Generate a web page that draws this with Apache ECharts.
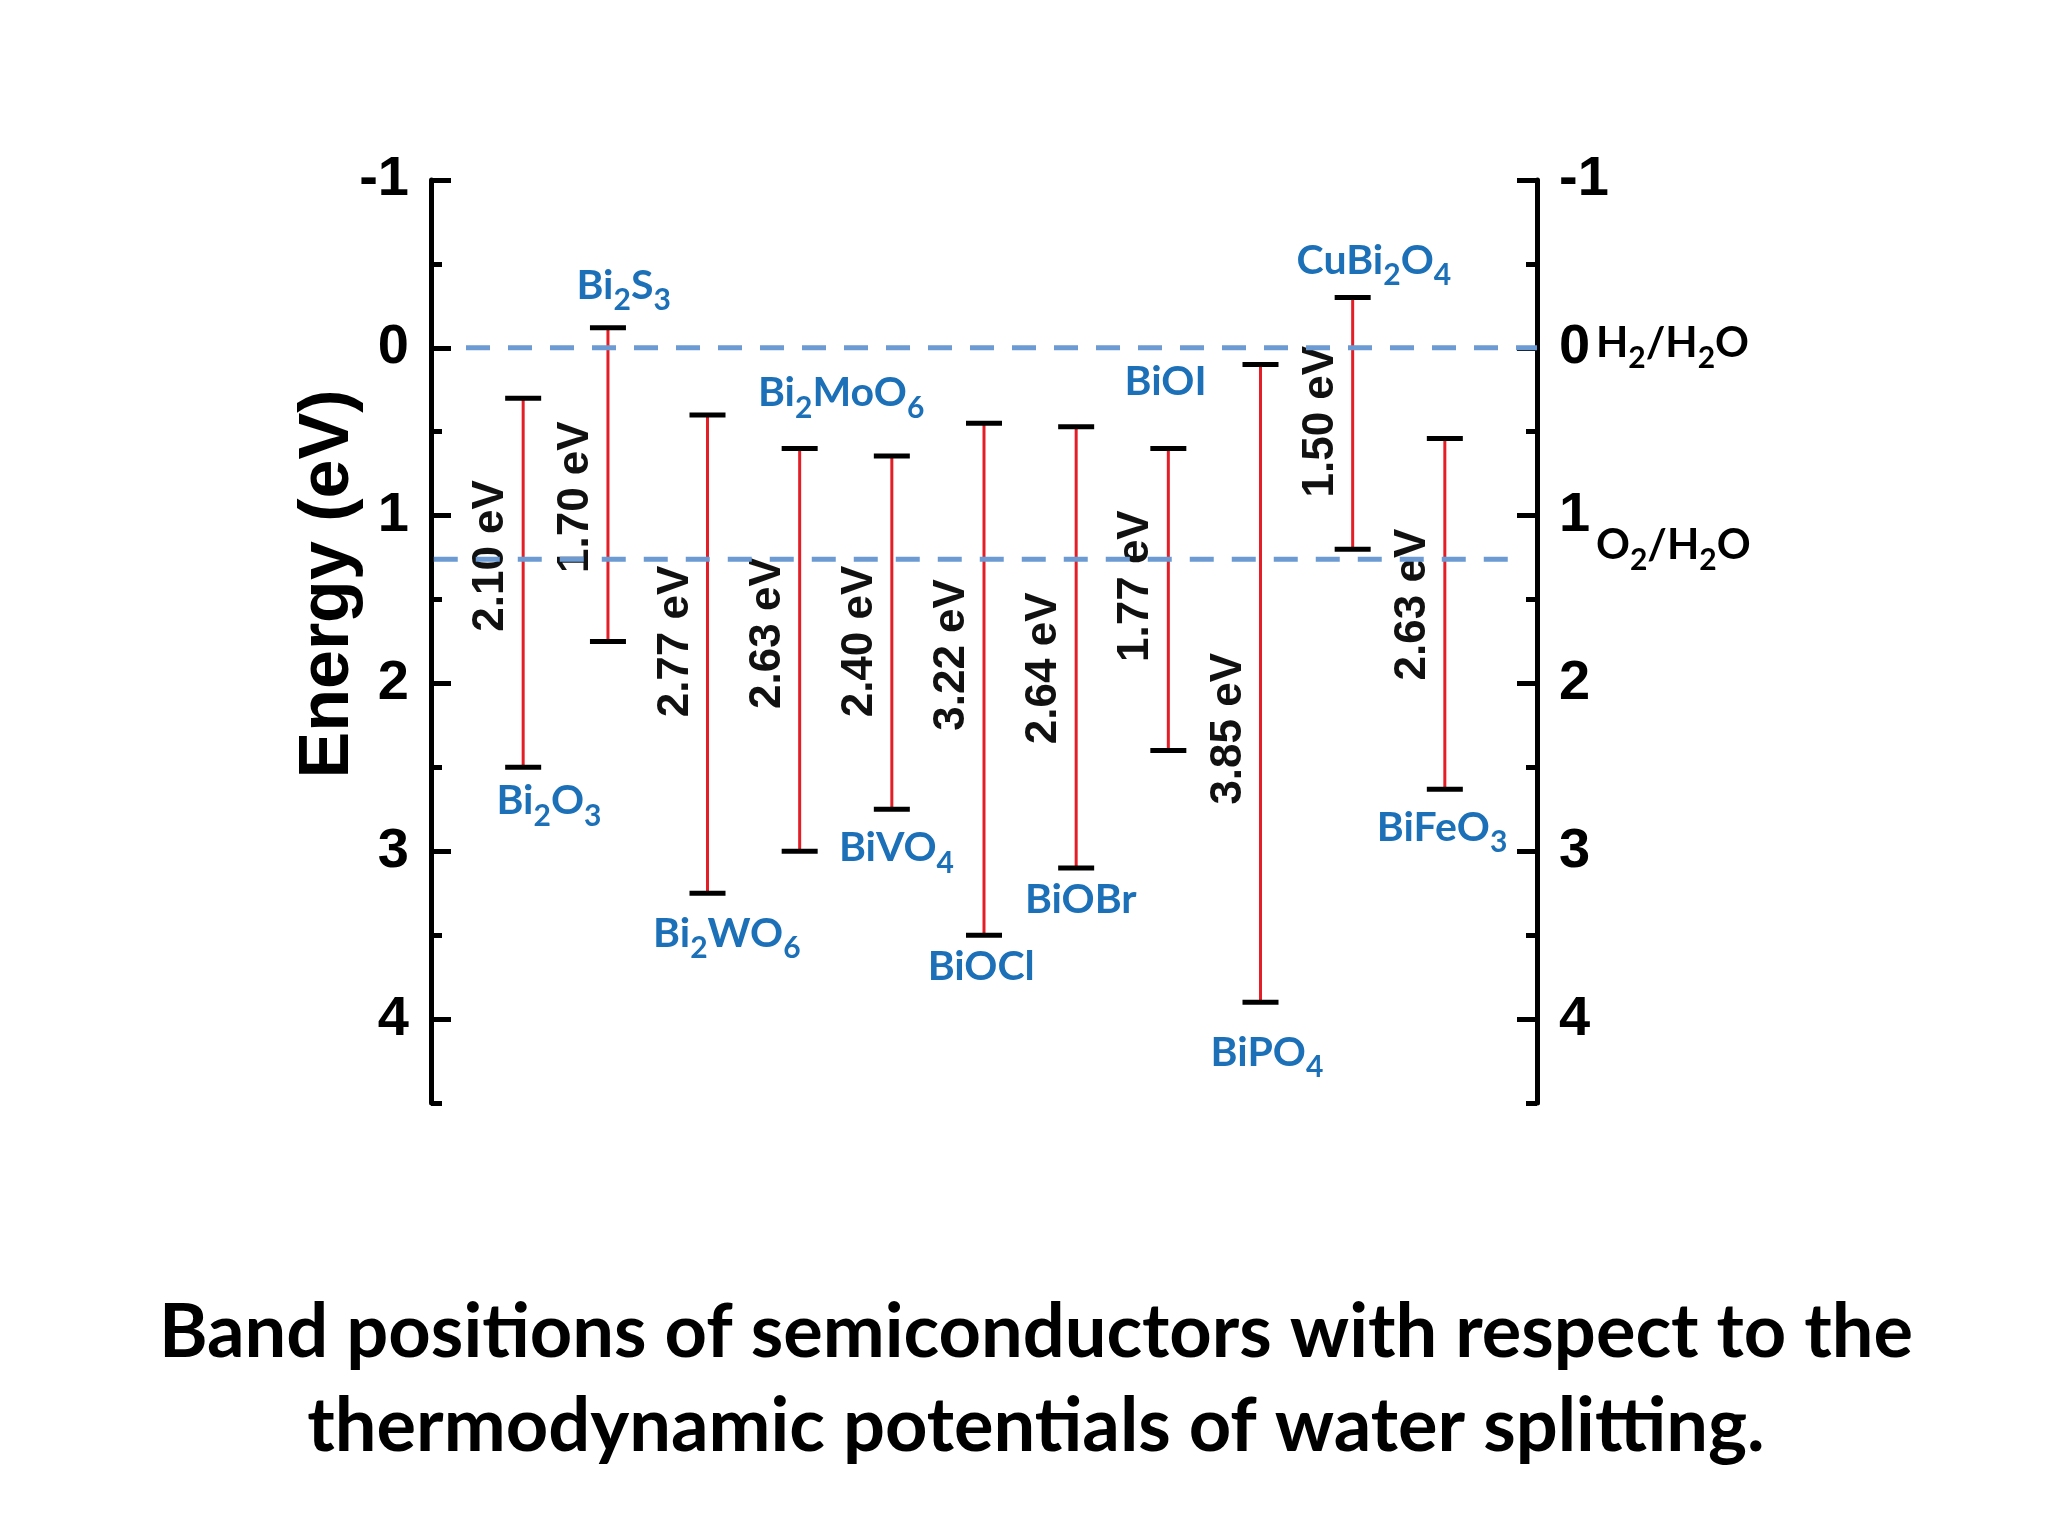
<!DOCTYPE html>
<html>
<head>
<meta charset="utf-8">
<title>Band positions</title>
<script src="https://cdn.jsdelivr.net/npm/echarts@6/dist/echarts.min.js"></script>
<style>
    html, body { margin: 0; padding: 0; background: #fff; }
    #chart { width: 2048px; height: 1536px; }
</style>
</head>
<body>
<div id="chart"></div>
<script>
    // 半导体名称（数字写成下标）
    const names = ['Bi2O3', 'Bi2S3', 'Bi2WO6', 'Bi2MoO6', 'BiVO4', 'BiOCl', 'BiOBr', 'BiOI', 'BiPO4', 'CuBi2O4', 'BiFeO3'];
    const xPos = [1, 1.92, 3, 4, 5, 6, 7, 8, 9, 10, 11];
    // 导带 / 价带位置 (eV)
    const cbEdge = [0.30, -0.12, 0.40, 0.60, 0.645, 0.45, 0.47, 0.60, 0.10, -0.30, 0.54];
    const vbEdge = [2.50, 1.75, 3.25, 3.00, 2.75, 3.50, 3.10, 2.40, 3.90, 1.20, 2.63];
    const gapText = ['2.10 eV', '1.70 eV', '2.77 eV', '2.63 eV', '2.40 eV', '3.22 eV', '2.64 eV', '1.77 eV', '3.85 eV', '1.50 eV', '2.63 eV'];
    const gapTextAt = [1.24, 0.89, 1.75, 1.70, 1.75, 1.83, 1.91, 1.42, 2.27, 0.44, 1.53];
    // 名称标签位置
    const nameX = [1.28, 2.09, 3.21, 4.45, 5.05, 5.97, 7.05, 7.97, 9.07, 10.23, 10.97];
    const nameY = [2.70, -0.37, 3.49, 0.27, 2.98, 3.69, 3.29, 0.20, 4.20, -0.52, 2.86];
    // 水分解电位
    const h2Line = [[0.38, 0], [12, 0]];
    const o2Line = [[0.03, 1.26], [11.86, 1.26]];
    const majorTicks = [-1, 0, 1, 2, 3, 4];
    const minorTicks = [-0.5, 0.5, 1.5, 2.5, 3.5, 4.5];

    const toRich = (s) => s.replace(/([^0-9]+)|([0-9]+)/g, (m, a, b) => a ? a : '{s|' + b + '}');

    const blue = '#1b70b8';
    const axisFont = { fontSize: 56, fontWeight: 'bold', fontFamily: '"Liberation Sans", Arial', color: '#000' };
    // 下标：用上边距把数字往下压
    const subStyle = (color) => ({ fontSize: 30, fontWeight: 'bold', fontFamily: 'Lato', fill: color, padding: [30, 0, 0, 0] });

    function yAxisMain(position) {
        return {
            type: 'value', position, min: -1, max: 4.5, interval: 0.5, inverse: true,
            axisLine: { show: true, lineStyle: { color: '#000', width: 5 } },
            axisTick: { show: true, inside: true, length: 20, customValues: majorTicks, lineStyle: { color: '#000', width: 5 } },
            axisLabel: Object.assign({ margin: 22, customValues: majorTicks }, axisFont),
            splitLine: { show: false }
        };
    }
    function yAxisMinor(position) {
        return {
            type: 'value', position, min: -1, max: 4.5, interval: 0.5, inverse: true,
            axisLine: { show: false },
            axisTick: { show: true, inside: true, length: 11, customValues: minorTicks, lineStyle: { color: '#000', width: 5 } },
            axisLabel: { show: false },
            splitLine: { show: false }
        };
    }

    const bandData = xPos.map((x, i) => [x, cbEdge[i], vbEdge[i], gapTextAt[i], i]);
    const nameData = names.map((n, i) => [nameX[i], nameY[i], i]);

    const myChart = echarts.init(document.getElementById('chart'));
    const option = {
        backgroundColor: '#fff',
        animation: false,
        title: {
            text: 'Band positions of semiconductors with respect to the\nthermodynamic potentials of water splitting.',
            left: 1031, top: 1281, textAlign: 'center',
            textStyle: { fontFamily: 'Lato', fontWeight: 'bold', fontSize: 74, lineHeight: 94, color: '#000' }
        },
        grid: { left: 431, right: 511, top: 180, bottom: 433 },
        xAxis: { type: 'value', min: 0, max: 12, show: false },
        yAxis: [yAxisMain('left'), yAxisMinor('left'), yAxisMain('right'), yAxisMinor('right')],
        graphic: [
            {
                type: 'text', x: 329, y: 584, rotation: Math.PI / 2,
                style: { text: 'Energy (eV)', fontSize: 70, fontWeight: 'bold', fontFamily: '"Liberation Sans", Arial', fill: '#000', align: 'center', verticalAlign: 'middle' }
            },
            {
                type: 'text', x: 1596, y: 343,
                style: {
                    text: toRich('H2/H2O'), fontSize: 42, fontWeight: 'bold', fontFamily: 'Lato', fill: '#000',
                    align: 'left', verticalAlign: 'middle',
                    rich: { s: subStyle('#000') }
                }
            },
            {
                type: 'text', x: 1596, y: 545,
                style: {
                    text: toRich('O2/H2O'), fontSize: 42, fontWeight: 'bold', fontFamily: 'Lato', fill: '#000',
                    align: 'left', verticalAlign: 'middle',
                    rich: { s: subStyle('#000') }
                }
            }
        ],
        series: [{
            type: 'custom',
            yAxisIndex: 0,
            data: bandData,
            renderItem(params, api) {
                const top = api.coord([api.value(0), api.value(1)]);
                const bot = api.coord([api.value(0), api.value(2)]);
                const lab = api.coord([api.value(0), api.value(3)]);
                const w = 18;
                return {
                    type: 'group',
                    children: [
                        { type: 'line', shape: { x1: top[0], y1: top[1], x2: bot[0], y2: bot[1] }, style: { stroke: '#e41e26', lineWidth: 3 } },
                        { type: 'line', shape: { x1: top[0] - w, y1: top[1], x2: top[0] + w, y2: top[1] }, style: { stroke: '#000', lineWidth: 5 } },
                        { type: 'line', shape: { x1: bot[0] - w, y1: bot[1], x2: bot[0] + w, y2: bot[1] }, style: { stroke: '#000', lineWidth: 5 } },
                        {
                            type: 'text', x: lab[0] - 32, y: lab[1], rotation: Math.PI / 2, z2: 10,
                            style: { text: gapText[api.value(4)], fontSize: 44, fontWeight: 'bold', fontFamily: '"Liberation Sans", Arial', fill: '#111', align: 'center', verticalAlign: 'middle' }
                        }
                    ]
                };
            }
        }, {
            type: 'custom',
            yAxisIndex: 0,
            data: nameData,
            renderItem(params, api) {
                const p = api.coord([api.value(0), api.value(1)]);
                return {
                    type: 'text', x: p[0], y: p[1],
                    style: {
                        text: toRich(names[api.value(2)]), fontSize: 41, fontWeight: 'bold', fontFamily: 'Lato', fill: blue,
                        align: 'center', verticalAlign: 'middle',
                        rich: { s: subStyle(blue) }
                    }
                };
            }
        }, {
            type: 'line', yAxisIndex: 0, data: h2Line, symbol: 'none', z: 5,
            lineStyle: { color: '#6b9bd2', width: 5, type: [24, 18] }
        }, {
            type: 'line', yAxisIndex: 0, data: o2Line, symbol: 'none', z: 5,
            lineStyle: { color: '#6b9bd2', width: 5, type: [24, 18] }
        }]
    };
    myChart.setOption(option);
</script>
</body>
</html>
